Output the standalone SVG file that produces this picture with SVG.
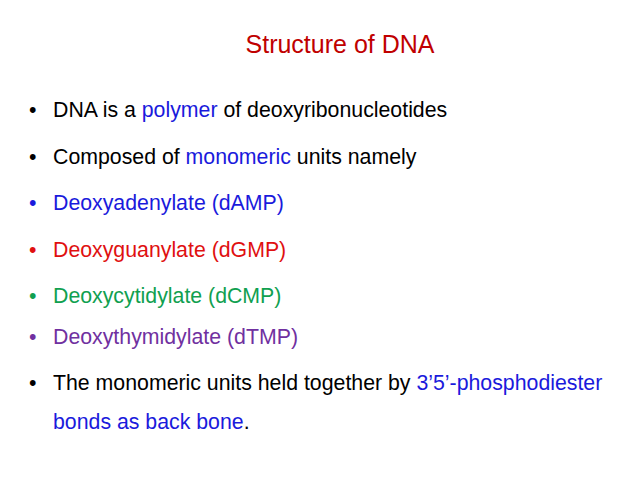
<svg xmlns="http://www.w3.org/2000/svg" width="638" height="478" viewBox="0 0 638 478">
<style>
text{font-family:"Liberation Sans",Arial,sans-serif;font-size:21.3px;fill:#000}
.b{fill:#1a1adc}.r{fill:#e01010}.g{fill:#10a050}.p{fill:#7030a0}
</style>
<rect width="638" height="478" fill="#fff"/>
<text x="340" y="53" text-anchor="middle" style="font-size:25px;fill:#c00000">Structure of DNA</text>
<text x="29" y="117">•</text><text x="53" y="117">DNA is a <tspan class="b">polymer</tspan> of deoxyribonucleotides</text>
<text x="29" y="164">•</text><text x="53" y="164">Composed of <tspan class="b">monomeric</tspan> units namely</text>
<text x="29" y="210" class="b">•</text><text x="53" y="210" class="b">Deoxyadenylate (dAMP)</text>
<text x="29" y="257" class="r">•</text><text x="53" y="257" class="r">Deoxyguanylate (dGMP)</text>
<text x="29" y="303" class="g">•</text><text x="53" y="303" class="g">Deoxycytidylate (dCMP)</text>
<text x="29" y="344" class="p">•</text><text x="53" y="344" class="p">Deoxythymidylate (dTMP)</text>
<text x="29" y="390">•</text><text x="53" y="390">The monomeric units held together by <tspan class="b">3’5’-phosphodiester</tspan></text>
<text x="53" y="429"><tspan class="b">bonds as back bone</tspan>.</text>
</svg>
